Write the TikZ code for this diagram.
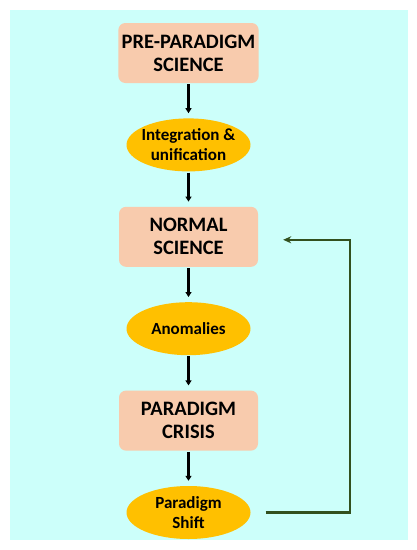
\documentclass[tikz,border=0pt]{standalone}
\usepackage{fontspec}
\setmainfont{Carlito}
\usepackage{tikz}
\usetikzlibrary{shapes,arrows.meta,calc,positioning}
\definecolor{bgcyan}{RGB}{204,255,250}
\definecolor{peach}{RGB}{248,203,173}
\definecolor{gold}{RGB}{255,192,0}
\definecolor{darkgreen}{RGB}{50,80,30}
\tikzset{
    x=1pt,y=-1pt,node distance = 35pt,
    stage/.style ={rectangle, rounded corners=7pt, fill=peach, minimum width = 139pt, minimum height = 60pt, align=center, font=\fontsize{20.5}{23}\selectfont\bfseries},
    event/.style ={ellipse, fill=gold, minimum width = 124pt, minimum height = 53pt, inner xsep=-5pt, inner ysep=-2pt, align=center, font=\fontsize{17}{20}\selectfont\bfseries},
    flow/.style={-{Triangle[length=5pt,width=6pt]}, line width=3pt, shorten <=1pt, shorten >=5pt},
    feedback/.style={-{Stealth[length=8pt,width=7pt]}, line width=2.2pt, darkgreen}
}
\begin{document}
\begin{tikzpicture}
    \useasboundingbox (0,0) rectangle (417,550);
    \fill[bgcyan] (10,10) rectangle (408,540);

    \node[stage] (pre) at (188.5,53) {PRE-PARADIGM\\SCIENCE};
    \node[event] (unify) [below = of pre] {Integration \&\\unification};
    \node[stage] (normal) [below = of unify] {NORMAL\\SCIENCE};
    \node[event] (anom) [below = of normal] {Anomalies};
    \node[stage] (crisis) [below = of anom] {PARADIGM\\CRISIS};
    \node[event] (shift) [below = of crisis] {Paradigm\\Shift};
    \coordinate (loop) at (350,0);

    \draw[flow] (pre) -- (unify);
    \draw[flow] (unify) -- (normal);
    \draw[flow] (normal) -- (anom);
    \draw[flow] (anom) -- (crisis);
    \draw[flow] (crisis) -- (shift);
    \draw[feedback, shorten <=15pt, shorten >=25pt] (shift.east) -- (shift.east -| loop) |- ([yshift=-3pt]normal.east);

\end{tikzpicture}
\end{document}
